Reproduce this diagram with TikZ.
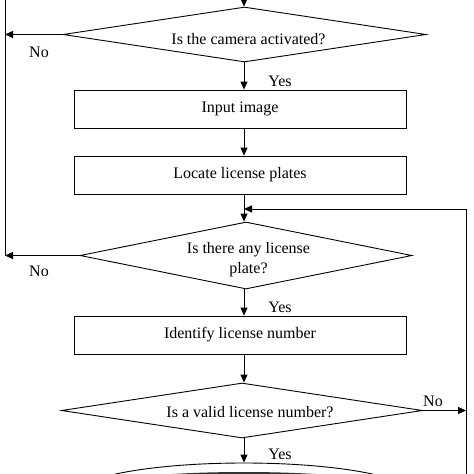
\documentclass[tikz,border=0pt]{standalone}
\usepackage{fontspec}
\setmainfont{Liberation Serif}
\usetikzlibrary{shapes.geometric,arrows.meta,calc}
\begin{document}
\begin{tikzpicture}[x=1pt,y=-1pt,
  every node/.style={font=\fontsize{16}{20}\selectfont},
  procbox/.style={draw,line width=0.9pt,minimum width=332pt,minimum height=38pt,inner sep=0pt},
  decide/.style={draw,line width=0.9pt,shape=diamond,inner sep=0pt},
  dtext/.style={inner sep=0pt,align=center},
  lbl/.style={inner sep=0pt},
  conn/.style={line width=0.9pt},
  arr/.style={conn,-{Triangle[length=8pt,width=7pt]}}
]
\useasboundingbox (0,0) rectangle (474,474);
\fill[white] (0,0) rectangle (474,474);

\node[decide,aspect=6.6,minimum width=363pt,minimum height=55pt] (d1) at (244.5,34.5) {};
\node[dtext] (t1) at (248.5,39) {Is the camera activated?};
\node[procbox] (b1) at (240,109) {Input image};
\node[procbox] (b2) at (240,175) {Locate license plates};
\node[decide,aspect=4.96,minimum width=332pt,minimum height=67pt] (d2) at (246,255.5) {};
\node[dtext] (t2) at (248.5,260) {Is there any license\\plate?};
\node[procbox] (b3) at (240,335) {Identify license number};
\node[decide,aspect=6.56,minimum width=361pt,minimum height=55pt] (d3) at (242,410.5) {};
\node[dtext] (t3) at (250,412) {Is a valid license number?};
\node[draw,line width=0.9pt,shape=ellipse,minimum width=340pt,minimum height=64pt] (e1) at (244,495) {};
\node[draw,line width=2pt,shape=ellipse,minimum width=400pt,minimum height=60pt,color=black!80] (e2) at (244,503) {};

\node[lbl] (no1) at (39,52) {No};
\node[lbl] (yes1) at (280,81) {Yes};
\node[lbl] (no2) at (39,271) {No};
\node[lbl] (yes2) at (280,307) {Yes};
\node[lbl] (no3) at (433,401) {No};
\node[lbl] (yes3) at (280,454) {Yes};

\coordinate (topin) at (244,0);
\coordinate (ltop) at (5,0);
\coordinate (lbot) at (5,255.5);
\coordinate (rbot) at (466,474);
\coordinate (rtop) at (466,209);
\coordinate (join) at (244,209);

% main flow
\draw[arr] (topin) -- (d1.north -| topin);
\draw[arr] (d1.south -| topin) -- (b1.north -| topin);
\draw[arr] (b1.south -| topin) -- (b2.north -| topin);
\draw[arr] (b2.south -| topin) -- (d2.north -| topin);
\draw[arr] (d2.south -| topin) -- (b3.north -| topin);
\draw[arr] (b3.south -| topin) -- (d3.north -| topin);
\draw[arr] (d3.south -| topin) -- (e1.north -| topin);

% No branches
\draw[arr] (d1.west) -- (d1.west -| ltop);
\draw[arr] (d2.west) -- (d2.west -| ltop);
\draw[conn] (ltop) -- (lbot);
\draw[arr] (d3.east) -- (d3.east -| rtop);
\draw[conn] (rbot) -- (rtop);
\draw[arr] (rtop) -- (join);
\end{tikzpicture}
\end{document}
